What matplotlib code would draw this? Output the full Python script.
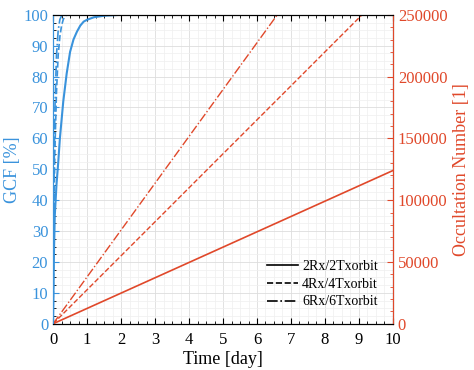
import matplotlib
matplotlib.use("Agg")
import matplotlib.pyplot as plt
import numpy as np
from matplotlib.ticker import MultipleLocator
from matplotlib.lines import Line2D

plt.rcParams['font.family'] = ['Liberation Serif', 'DejaVu Serif']

# GCF curves (time in day, GCF in %)
t_gcf_2 = [0, 0.02, 0.05, 0.1, 0.15, 0.2, 0.3, 0.4, 0.5, 0.6, 0.7, 0.8, 0.9, 1.0, 1.2, 1.5, 2.0, 10]
gcf_2 = [0, 20, 35, 45, 52, 60, 72, 81, 88, 92, 94.5, 96.5, 97.8, 98.4, 99.2, 99.7, 100, 100]
t_gcf_4 = [0, 0.02, 0.05, 0.1, 0.15, 0.2, 0.25, 0.3, 0.35, 0.4, 0.5, 10]
gcf_4 = [0, 30, 55, 75, 87, 93, 96.5, 98.5, 99.5, 100, 100, 100]
t_gcf_6 = [0, 0.02, 0.05, 0.1, 0.15, 0.2, 0.25, 0.3, 10]
gcf_6 = [0, 40, 68, 87, 95, 98.5, 99.7, 100, 100]

# occultation number (cumulative)
t_occ = [0, 10]
occ_2 = [0, 124000]
occ_4 = [0, 275000]
occ_6 = [0, 379000]

labels = ["2Rx/2Txorbit", "4Rx/4Txorbit", "6Rx/6Txorbit"]

blue = "#3a93dc"
red = "#e0482a"

fig, ax = plt.subplots(figsize=(4.74, 3.7), dpi=100)
fig.subplots_adjust(left=0.112, right=0.829, top=0.96, bottom=0.125)

ax.plot(t_gcf_2, gcf_2, color=blue, lw=1.5, ls="-")
ax.plot(t_gcf_4, gcf_4, color=blue, lw=1.2, ls="--")
ax.plot(t_gcf_6, gcf_6, color=blue, lw=1.2, ls="-.")
ax.set_xlim(0, 10)
ax.set_ylim(0, 100)
ax.xaxis.set_major_locator(MultipleLocator(1))
ax.xaxis.set_minor_locator(MultipleLocator(0.25))
ax.yaxis.set_major_locator(MultipleLocator(10))
ax.yaxis.set_minor_locator(MultipleLocator(2.5))
ax.grid(which="major", color="#dddddd", lw=0.6)
ax.grid(which="minor", color="#efefef", lw=0.5)
ax.set_axisbelow(True)
ax.tick_params(which="both", direction="in", top=True)
ax.tick_params(axis="y", colors=blue, labelsize=12)
ax.tick_params(axis="x", labelsize=12, pad=6)
ax.tick_params(which="major", length=4)
ax.tick_params(which="minor", length=2)
ax.set_xlabel("Time [day]", fontsize=13, labelpad=2)
ax.set_ylabel("GCF [%]", fontsize=13, color=blue, labelpad=2)
ax.spines["left"].set_color(blue)

ax2 = ax.twinx()
ax2.plot(t_occ, occ_2, color=red, lw=1.2, ls="-")
ax2.plot(t_occ, occ_4, color=red, lw=1.0, ls="--")
ax2.plot(t_occ, occ_6, color=red, lw=1.0, ls="-.")
ax2.set_ylim(0, 250000)
ax2.yaxis.set_major_locator(MultipleLocator(50000))
ax2.yaxis.set_minor_locator(MultipleLocator(10000))
ax2.tick_params(which="both", direction="in", colors=red, labelsize=12)
ax2.tick_params(which="major", length=4)
ax2.tick_params(which="minor", length=2)
ax2.set_ylabel("Occultation Number [1]", fontsize=13, color=red)
ax2.spines["right"].set_color(red)
ax2.spines["left"].set_color(blue)

handles = [Line2D([], [], color="black", lw=1.2, ls=s) for s in ["-", "--", "-."]]
ax2.legend(handles, labels, loc="lower right", frameon=False, fontsize=10,
           handlelength=2.2, borderaxespad=0.7, labelspacing=0.35, handletextpad=0.3)

fig.savefig("out.png", dpi=100)
